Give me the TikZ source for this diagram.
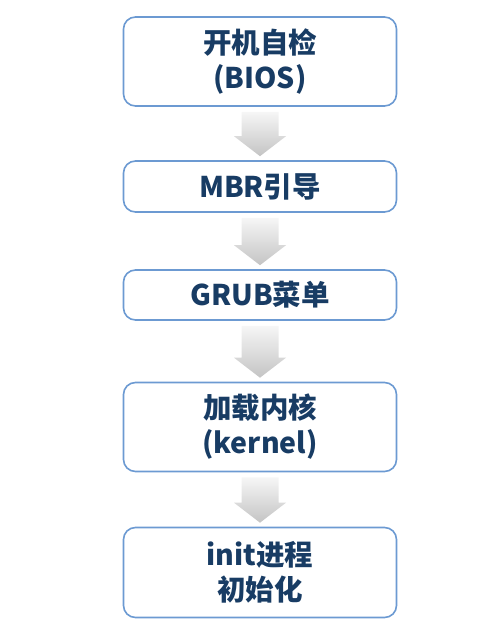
\documentclass[tikz,border=0pt]{standalone}
\usepackage{fontspec}
\setmainfont{Noto Sans CJK SC}[BoldFont={Noto Sans CJK SC Black}]
\usetikzlibrary{calc}
\definecolor{boxline}{RGB}{108,154,210}
\definecolor{txt}{RGB}{24,60,100}
\definecolor{arrtop}{RGB}{246,246,246}
\definecolor{arrbot}{RGB}{196,196,196}
\tikzset{
  box/.style={draw=boxline, line width=1.6pt, rounded corners=12pt, fill=white,
    minimum width=273pt, align=center, text=txt, font=\fontsize{28.5}{35}\selectfont\bfseries, inner sep=0pt},
  blockarrow/.style={top color=arrtop, bottom color=arrbot, draw=none}
}
\newcommand{\downarrowshape}[2]{%
  \shade[blockarrow]
    ($(#1.south)+(-18.5,5)$) -- ($(#1.south)+(18.5,5)$) --
    ($(#2.north)+(18.5,-24)$) -- ($(#2.north)+(26,-24)$) --
    ($(#2.north)+(0,-4)$) --
    ($(#2.north)+(-26,-24)$) -- ($(#2.north)+(-18.5,-24)$) -- cycle;}
\begin{document}
\begin{tikzpicture}[x=1pt,y=-1pt]
\useasboundingbox (0,0) rectangle (501,623);
\node[box, minimum height=89pt] (b1) at (260,61.5) {开机自检\\(BIOS)};
\node[box, minimum height=51pt] (b2) at (260,186.5) {MBR引导};
\node[box, minimum height=50pt] (b3) at (260,295) {GRUB菜单};
\node[box, minimum height=89pt] (b4) at (260,427) {加载内核\\(kernel)};
\node[box, minimum height=90pt] (b5) at (260,572.5) {init进程\\初始化};
\downarrowshape{b1}{b2}
\downarrowshape{b2}{b3}
\downarrowshape{b3}{b4}
\downarrowshape{b4}{b5}
\end{tikzpicture}
\end{document}
